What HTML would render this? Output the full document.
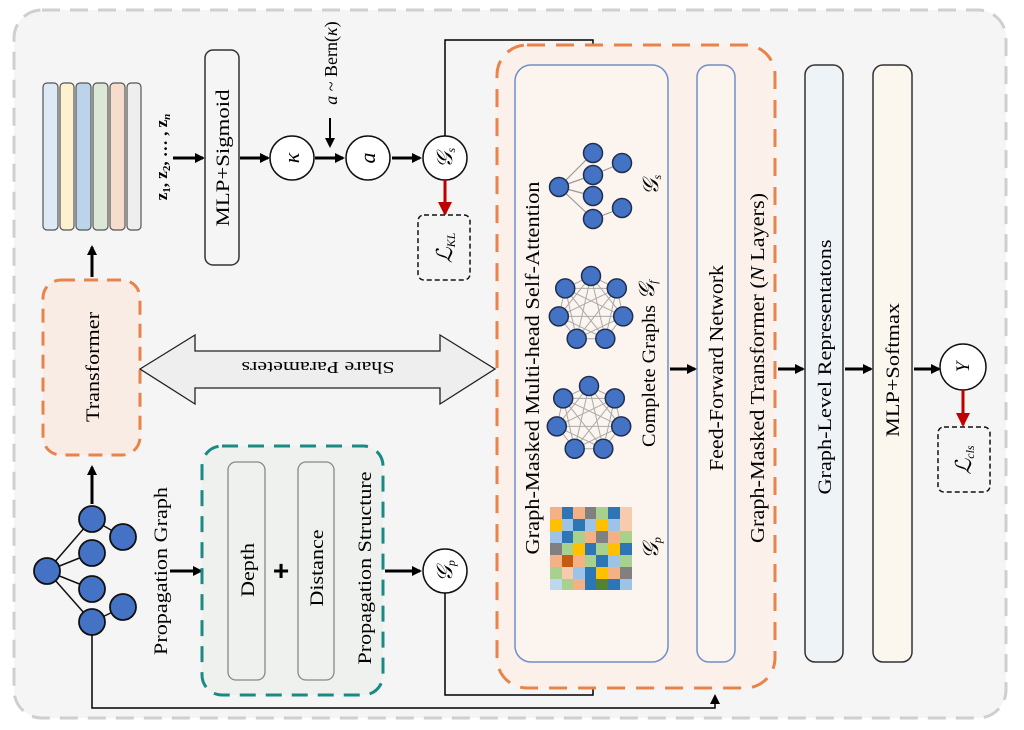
<!DOCTYPE html>
<html><head><meta charset="utf-8"><style>
html,body{margin:0;padding:0;background:#fff;}
svg{display:block;font-family:"Liberation Serif",serif;}
</style></head><body>
<svg width="1024" height="730" viewBox="0 0 1024 730" xmlns="http://www.w3.org/2000/svg">
<defs>
<marker id="ah" markerWidth="10" markerHeight="10" refX="8" refY="5" orient="auto" markerUnits="userSpaceOnUse"><path d="M0,0 L10,5 L0,10 z" fill="#000"/></marker>
<marker id="ar" markerWidth="14" markerHeight="14" refX="12" refY="7" orient="auto" markerUnits="userSpaceOnUse"><path d="M0,0 L14,7 L0,14 z" fill="#c00000"/></marker>
<g id="cg">
<polygon points="0,-33 25.8,-20.6 32.2,7.4 14.3,29.7 -14.3,29.7 -32.2,7.4 -25.8,-20.6" fill="none" stroke="#aaa" stroke-width="1"/>
<polygon points="0,-33 32.2,7.4 -14.3,29.7 -25.8,-20.6 25.8,-20.6 14.3,29.7 -32.2,7.4" fill="none" stroke="#aaa" stroke-width="1"/>
<polygon points="0,-33 14.3,29.7 -25.8,-20.6 32.2,7.4 -32.2,7.4 25.8,-20.6 -14.3,29.7" fill="none" stroke="#aaa" stroke-width="1"/>
<g fill="#4472c4" stroke="#1f2f4f" stroke-width="1.5">
<circle cx="0" cy="-33" r="9.5"/><circle cx="25.8" cy="-20.6" r="9.5"/><circle cx="32.2" cy="7.4" r="9.5"/><circle cx="14.3" cy="29.7" r="9.5"/><circle cx="-14.3" cy="29.7" r="9.5"/><circle cx="-32.2" cy="7.4" r="9.5"/><circle cx="-25.8" cy="-20.6" r="9.5"/>
</g></g>
</defs>

<rect x="14" y="10" width="992" height="708" rx="28" fill="#f5f5f5" stroke="#cfcfcf" stroke-width="3" stroke-dasharray="18,10"/>

<g stroke="#555" stroke-width="1.2">
<rect x="43" y="83" width="15" height="147" rx="4" fill="#dde9f5"/>
<rect x="60" y="83" width="14" height="147" rx="4" fill="#fdf1cf"/>
<rect x="76" y="83" width="15" height="147" rx="4" fill="#bcd4ea"/>
<rect x="93" y="83" width="15" height="147" rx="4" fill="#dbe8d6"/>
<rect x="110" y="83" width="15" height="147" rx="4" fill="#f6dccc"/>
<rect x="127" y="83" width="14" height="147" rx="4" fill="#eeeeee"/>
</g>
<text transform="translate(167,157) rotate(-90)" text-anchor="middle" font-size="17" font-weight="bold">z<tspan font-size="11" dy="3">1</tspan><tspan dy="-3">, z</tspan><tspan font-size="11" dy="3">2</tspan><tspan dy="-3">, … , z</tspan><tspan font-size="11" dy="3" font-style="italic">n</tspan></text>
<line x1="173" y1="158" x2="203" y2="158" stroke="#000" stroke-width="3" marker-end="url(#ah)"/>
<rect x="205" y="50" width="34" height="215" rx="8" fill="#f5f5f5" stroke="#333" stroke-width="1.5"/>
<text transform="translate(229,158) rotate(-90)" text-anchor="middle" font-size="19" textLength="137" lengthAdjust="spacingAndGlyphs">MLP+Sigmoid</text>
<line x1="240" y1="158" x2="268" y2="158" stroke="#000" stroke-width="3" marker-end="url(#ah)"/>
<circle cx="292" cy="158" r="22" fill="#fff" stroke="#111" stroke-width="1.5"/>
<text transform="translate(299,158) rotate(-90)" text-anchor="middle" font-size="22" font-style="italic">κ</text>
<line x1="315" y1="158" x2="343" y2="158" stroke="#000" stroke-width="3" marker-end="url(#ah)"/>
<text transform="translate(337,63) rotate(-90)" text-anchor="middle" font-size="18"><tspan font-style="italic">a</tspan> ~ Bern(<tspan font-style="italic">κ</tspan>)</text>
<line x1="330" y1="118" x2="330" y2="146" stroke="#000" stroke-width="2" marker-end="url(#ah)"/>
<circle cx="368" cy="158" r="22" fill="#fff" stroke="#111" stroke-width="1.5"/>
<text transform="translate(375,158) rotate(-90)" text-anchor="middle" font-size="22" font-style="italic">a</text>
<line x1="392" y1="158" x2="420" y2="158" stroke="#000" stroke-width="3" marker-end="url(#ah)"/>
<circle cx="445" cy="158" r="22" fill="#fff" stroke="#111" stroke-width="1.5"/>
<text transform="translate(452,158) rotate(-90)" text-anchor="middle" font-size="22" font-style="italic">𝒢<tspan font-size="12" dy="3">s</tspan></text>
<polyline points="445,136 445,40 593,40 593,74" fill="none" stroke="#000" stroke-width="1.5" marker-end="url(#ah)"/>
<line x1="445" y1="180" x2="445" y2="214" stroke="#c00000" stroke-width="3" marker-end="url(#ar)"/>
<rect x="418" y="215" width="52" height="65" rx="6" fill="#f5f5f5" stroke="#111" stroke-width="1.5" stroke-dasharray="5,3"/>
<text transform="translate(452,248) rotate(-90)" text-anchor="middle" font-size="22" font-style="italic">ℒ<tspan font-size="12" dy="3">KL</tspan></text>

<rect x="43" y="280" width="97" height="175" rx="18" fill="#f9ece4" stroke="#e8834a" stroke-width="3" stroke-dasharray="14,9"/>
<text transform="translate(99,367) rotate(-90)" text-anchor="middle" font-size="19" textLength="110" lengthAdjust="spacingAndGlyphs">Transformer</text>
<line x1="92" y1="277" x2="92" y2="247" stroke="#000" stroke-width="3" marker-end="url(#ah)"/>

<polygon points="140,369 195,335 195,351 440,351 440,335 495,369 440,404 440,388 195,388 195,404" fill="#eeeeee" stroke="#222" stroke-width="1.3"/>
<text transform="translate(318,362) rotate(180)" text-anchor="middle" font-size="17" textLength="153" lengthAdjust="spacingAndGlyphs">Share Parameters</text>

<g stroke="#111" stroke-width="1.5">
<line x1="47" y1="571" x2="92" y2="519"/><line x1="47" y1="571" x2="92" y2="553"/><line x1="47" y1="571" x2="92" y2="589"/><line x1="47" y1="571" x2="92" y2="622"/>
<line x1="92" y1="519" x2="123" y2="537"/><line x1="92" y1="622" x2="123" y2="607"/>
</g>
<g fill="#4472c4" stroke="#111" stroke-width="1.8">
<circle cx="47" cy="571" r="13"/><circle cx="92" cy="519" r="13"/><circle cx="123" cy="537" r="13"/><circle cx="92" cy="553" r="13"/><circle cx="92" cy="589" r="13"/><circle cx="123" cy="607" r="13"/><circle cx="92" cy="622" r="13"/>
</g>
<line x1="92" y1="504" x2="92" y2="467" stroke="#000" stroke-width="3" marker-end="url(#ah)"/>
<polyline points="92,635 92,708 715,708 715,696" fill="none" stroke="#000" stroke-width="1.5" marker-end="url(#ah)"/>
<text transform="translate(167,571) rotate(-90)" text-anchor="middle" font-size="19" textLength="168" lengthAdjust="spacingAndGlyphs">Propagation Graph</text>
<line x1="170" y1="571" x2="201" y2="571" stroke="#000" stroke-width="3" marker-end="url(#ah)"/>
<rect x="202" y="446" width="181" height="249" rx="20" fill="#eef1ee" stroke="#1a8a85" stroke-width="3" stroke-dasharray="16,10"/>
<rect x="228" y="462" width="37" height="218" rx="8" fill="#eef1ee" stroke="#888" stroke-width="1.3"/>
<rect x="298" y="462" width="36" height="218" rx="8" fill="#eef1ee" stroke="#888" stroke-width="1.3"/>
<text transform="translate(254,570) rotate(-90)" text-anchor="middle" font-size="19" textLength="54" lengthAdjust="spacingAndGlyphs">Depth</text>
<text transform="translate(323,568) rotate(-90)" text-anchor="middle" font-size="19" textLength="77" lengthAdjust="spacingAndGlyphs">Distance</text>
<text x="281" y="580" text-anchor="middle" font-size="28" font-weight="bold" font-family="Liberation Sans,sans-serif">+</text>
<text transform="translate(371,568) rotate(-90)" text-anchor="middle" font-size="19" textLength="193" lengthAdjust="spacingAndGlyphs">Propagation Structure</text>
<line x1="385" y1="571" x2="420" y2="571" stroke="#000" stroke-width="3" marker-end="url(#ah)"/>
<circle cx="445" cy="571" r="22" fill="#fff" stroke="#111" stroke-width="1.5"/>
<text transform="translate(452,571) rotate(-90)" text-anchor="middle" font-size="22" font-style="italic">𝒢<tspan font-size="12" dy="3">p</tspan></text>
<polyline points="445,593 445,695 593,695 593,664" fill="none" stroke="#000" stroke-width="1.5" marker-end="url(#ah)"/>

<rect x="497" y="45" width="278" height="643" rx="30" fill="#fbf1ea" stroke="#e8834a" stroke-width="3" stroke-dasharray="18,11"/>
<rect x="515" y="65" width="153" height="597" rx="16" fill="#fbf4ef" stroke="#6f8fc8" stroke-width="1.5"/>
<rect x="697" y="65" width="38" height="597" rx="12" fill="#fbf4ef" stroke="#6f8fc8" stroke-width="1.5"/>
<text transform="translate(539,368) rotate(-90)" text-anchor="middle" font-size="20" textLength="373" lengthAdjust="spacingAndGlyphs">Graph-Masked Multi-head Self-Attention</text>
<text transform="translate(723,368) rotate(-90)" text-anchor="middle" font-size="20" textLength="206" lengthAdjust="spacingAndGlyphs">Feed-Forward Network</text>
<text transform="translate(764,368) rotate(-90)" text-anchor="middle" font-size="20" textLength="350" lengthAdjust="spacingAndGlyphs">Graph-Masked Transformer (<tspan font-style="italic">N</tspan> Layers)</text>
<line x1="670" y1="369" x2="695" y2="369" stroke="#000" stroke-width="3" marker-end="url(#ah)"/>
<line x1="778" y1="369" x2="803" y2="369" stroke="#000" stroke-width="3" marker-end="url(#ah)"/>

<g stroke="#999" stroke-width="1.2">
<line x1="559" y1="187" x2="593" y2="153"/><line x1="559" y1="187" x2="593" y2="175"/><line x1="559" y1="187" x2="593" y2="196"/><line x1="559" y1="187" x2="593" y2="219"/>
<line x1="593" y1="175" x2="622" y2="163"/><line x1="593" y1="219" x2="622" y2="208"/>
</g>
<g fill="#4472c4" stroke="#1f2f4f" stroke-width="1.5">
<circle cx="559" cy="187" r="9.5"/><circle cx="593" cy="153" r="9.5"/><circle cx="593" cy="175" r="9.5"/><circle cx="593" cy="196" r="9.5"/><circle cx="593" cy="219" r="9.5"/><circle cx="622" cy="163" r="9.5"/><circle cx="622" cy="208" r="9.5"/>
</g>
<text transform="translate(658,185) rotate(-90)" text-anchor="middle" font-size="22" font-style="italic">𝒢<tspan font-size="12" dy="3">s</tspan></text>
<use href="#cg" transform="translate(591,309)"/>
<use href="#cg" transform="translate(589,419)"/>
<text transform="translate(654,290) rotate(-90)" text-anchor="middle" font-size="22" font-style="italic">𝒢<tspan font-size="12" dy="3">f</tspan></text>
<text transform="translate(655,376) rotate(-90)" text-anchor="middle" font-size="19" textLength="142" lengthAdjust="spacingAndGlyphs">Complete Graphs</text>
<g>
<rect x="550" y="507" width="12" height="12" fill="#f4b183"/><rect x="562" y="507" width="11" height="12" fill="#2e75b6"/><rect x="573" y="507" width="12" height="12" fill="#f4b183"/><rect x="585" y="507" width="11" height="12" fill="#808080"/><rect x="596" y="507" width="12" height="12" fill="#a9d18e"/><rect x="608" y="507" width="12" height="12" fill="#2e75b6"/><rect x="620" y="507" width="12" height="12" fill="#f8cbad"/>
<rect x="550" y="519" width="12" height="12" fill="#ffc000"/><rect x="562" y="519" width="11" height="12" fill="#9dc3e6"/><rect x="573" y="519" width="12" height="12" fill="#2e75b6"/><rect x="585" y="519" width="11" height="12" fill="#9dc3e6"/><rect x="596" y="519" width="12" height="12" fill="#ffc000"/><rect x="608" y="519" width="12" height="12" fill="#9dc3e6"/><rect x="620" y="519" width="12" height="12" fill="#f8cbad"/>
<rect x="550" y="531" width="12" height="12" fill="#9dc3e6"/><rect x="562" y="531" width="11" height="12" fill="#2e75b6"/><rect x="573" y="531" width="12" height="12" fill="#a9d18e"/><rect x="585" y="531" width="11" height="12" fill="#f4b183"/><rect x="596" y="531" width="12" height="12" fill="#808080"/><rect x="608" y="531" width="12" height="12" fill="#f4b183"/><rect x="620" y="531" width="12" height="12" fill="#a9d18e"/>
<rect x="550" y="543" width="12" height="12" fill="#808080"/><rect x="562" y="543" width="11" height="12" fill="#a9d18e"/><rect x="573" y="543" width="12" height="12" fill="#ffc000"/><rect x="585" y="543" width="11" height="12" fill="#2e75b6"/><rect x="596" y="543" width="12" height="12" fill="#a9d18e"/><rect x="608" y="543" width="12" height="12" fill="#ffc000"/><rect x="620" y="543" width="12" height="12" fill="#2e75b6"/>
<rect x="550" y="555" width="12" height="12" fill="#f4b183"/><rect x="562" y="555" width="11" height="12" fill="#c55a11"/><rect x="573" y="555" width="12" height="12" fill="#f4b183"/><rect x="585" y="555" width="11" height="12" fill="#a9d18e"/><rect x="596" y="555" width="12" height="12" fill="#2e75b6"/><rect x="608" y="555" width="12" height="12" fill="#9dc3e6"/><rect x="620" y="555" width="12" height="12" fill="#a9d18e"/>
<rect x="550" y="567" width="12" height="12" fill="#a9d18e"/><rect x="562" y="567" width="11" height="12" fill="#f8cbad"/><rect x="573" y="567" width="12" height="12" fill="#9dc3e6"/><rect x="585" y="567" width="11" height="12" fill="#2e75b6"/><rect x="596" y="567" width="12" height="12" fill="#ffc000"/><rect x="608" y="567" width="12" height="12" fill="#f4b183"/><rect x="620" y="567" width="12" height="12" fill="#808080"/>
<rect x="550" y="579" width="12" height="11" fill="#bdd7ee"/><rect x="562" y="579" width="11" height="11" fill="#a9d18e"/><rect x="573" y="579" width="12" height="11" fill="#f4b183"/><rect x="585" y="579" width="11" height="11" fill="#2e75b6"/><rect x="596" y="579" width="12" height="11" fill="#548235"/><rect x="608" y="579" width="12" height="11" fill="#2e75b6"/><rect x="620" y="579" width="12" height="11" fill="#9dc3e6"/>
</g>
<text transform="translate(658,548) rotate(-90)" text-anchor="middle" font-size="22" font-style="italic">𝒢<tspan font-size="12" dy="3">p</tspan></text>

<rect x="805" y="65" width="38" height="597" rx="10" fill="#eef3f8" stroke="#333" stroke-width="1.5"/>
<text transform="translate(831,367) rotate(-90)" text-anchor="middle" font-size="19" textLength="255" lengthAdjust="spacingAndGlyphs">Graph-Level Representatons</text>
<line x1="845" y1="369" x2="871" y2="369" stroke="#000" stroke-width="3" marker-end="url(#ah)"/>
<rect x="873" y="65" width="39" height="597" rx="10" fill="#fbf7ee" stroke="#333" stroke-width="1.5"/>
<text transform="translate(899,370) rotate(-90)" text-anchor="middle" font-size="19" textLength="134" lengthAdjust="spacingAndGlyphs">MLP+Softmax</text>
<line x1="914" y1="369" x2="939" y2="369" stroke="#000" stroke-width="3" marker-end="url(#ah)"/>
<circle cx="963" cy="367" r="23" fill="#fff" stroke="#111" stroke-width="1.5"/>
<text transform="translate(969,367) rotate(-90)" text-anchor="middle" font-size="19" font-style="italic">Y</text>
<line x1="963" y1="390" x2="963" y2="425" stroke="#c00000" stroke-width="3" marker-end="url(#ar)"/>
<rect x="938" y="427" width="52" height="65" rx="6" fill="#f5f5f5" stroke="#111" stroke-width="1.5" stroke-dasharray="5,3"/>
<text transform="translate(971,460) rotate(-90)" text-anchor="middle" font-size="22" font-style="italic">ℒ<tspan font-size="12" dy="3">cls</tspan></text>
</svg>
</body></html>
